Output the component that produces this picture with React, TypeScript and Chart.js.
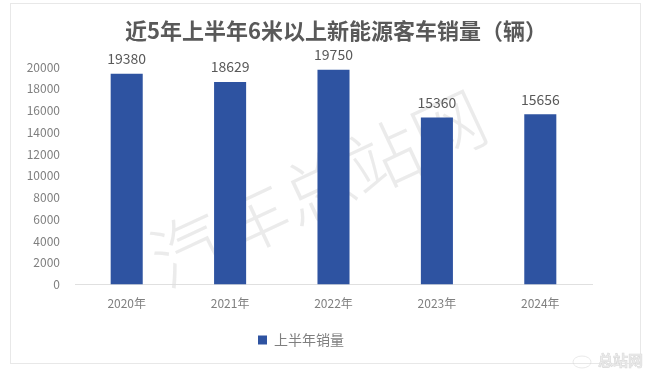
import React, { useEffect, useRef } from "react";
import { Chart, registerables } from "chart.js";

Chart.register(...registerables);

const TITLE = "近5年上半年6米以上新能源客车销量（辆）";
const CATEGORIES = ["2020年", "2021年", "2022年", "2023年", "2024年"];
const SERIES_NAME = "上半年销量";
const VALUES = [19380, 18629, 19750, 15360, 15656];
const Y_MAX = 20000;
const Y_STEP = 2000;
const WATERMARK = "汽车总站网";
const CORNER_MARK = "总站网";

const FONT = "'Noto Sans CJK SC', 'Noto Sans', sans-serif";
const BAR_COLOR = "#2E53A1";

const framePlugin = {
  id: "frame",
  beforeDraw(chart: any) {
    const ctx = chart.ctx;
    ctx.save();
    ctx.fillStyle = "#ffffff";
    ctx.fillRect(0, 0, chart.width, chart.height);
    ctx.strokeStyle = "#e8e8e8";
    ctx.lineWidth = 1;
    ctx.strokeRect(10.5, 3.5, 630, 360);
    ctx.font = `bold 22px ${FONT}`;
    ctx.fillStyle = "#595959";
    ctx.textAlign = "center";
    ctx.textBaseline = "middle";
    ctx.fillText(TITLE, 336, 31);
    ctx.restore();
  },
};

const watermarkPlugin = {
  id: "watermark",
  beforeDatasetsDraw(chart: any) {
    const ctx = chart.ctx;
    ctx.save();
    ctx.translate(318, 188);
    ctx.rotate((-25 * Math.PI) / 180);
    ctx.font = `300 72px ${FONT}`;
    ctx.fillStyle = "rgba(222,222,222,0.6)";
    ctx.textAlign = "center";
    ctx.textBaseline = "middle";
    ctx.fillText(WATERMARK, 0, 0);
    ctx.restore();
  },
  afterDraw(chart: any) {
    const ctx = chart.ctx;
    ctx.save();
    ctx.font = `bold 15px ${FONT}`;
    ctx.fillStyle = "#ececec";
    ctx.strokeStyle = "#dadada";
    ctx.lineWidth = 0.6;
    ctx.textAlign = "left";
    ctx.textBaseline = "middle";
    ctx.fillText(CORNER_MARK, 598, 360);
    ctx.strokeText(CORNER_MARK, 598, 360);
    ctx.beginPath();
    ctx.ellipse(582, 362, 9, 6, 0, 0, Math.PI * 2);
    ctx.stroke();
    ctx.restore();
  },
};

const labelPlugin = {
  id: "valueLabels",
  afterDatasetsDraw(chart: any) {
    const ctx = chart.ctx;
    const meta = chart.getDatasetMeta(0);
    ctx.save();
    ctx.font = `14px ${FONT}`;
    ctx.fillStyle = "#595959";
    ctx.textAlign = "center";
    ctx.textBaseline = "bottom";
    meta.data.forEach((bar: any, i: number) => {
      ctx.fillText(String(VALUES[i]), bar.x, bar.y - 8);
    });
    ctx.restore();
  },
};

export default function App() {
  const ref = useRef<HTMLCanvasElement>(null);
  useEffect(() => {
    const chart = new Chart(ref.current!, {
      type: "bar",
      data: {
        labels: CATEGORIES,
        datasets: [
          {
            label: SERIES_NAME,
            data: VALUES,
            backgroundColor: BAR_COLOR,
            categoryPercentage: 1,
            barPercentage: 0.31,
          },
        ],
      },
      options: {
        animation: false,
        responsive: false,
        layout: { padding: { left: 10, right: 60, top: 67, bottom: 19 } },
        plugins: {
          title: { display: false },
          legend: {
            display: true,
            position: "bottom",
            labels: {
              color: "#7f7f7f",
              font: { family: FONT, size: 14 },
              boxWidth: 9,
              boxHeight: 9,
              padding: 14,
            },
          },
          tooltip: { enabled: false },
        },
        scales: {
          x: {
            grid: { display: false },
            border: { display: true, color: "#e0e0e0" },
            ticks: {
              color: "#7f7f7f",
              font: { family: FONT, size: 12 },
              padding: 4,
            },
            afterFit(scale: any) {
              scale.height += 4;
            },
          },
          y: {
            min: 0,
            max: Y_MAX,
            grid: { display: false, drawTicks: false },
            border: { display: false },
            ticks: {
              stepSize: Y_STEP,
              color: "#7f7f7f",
              font: { family: FONT, size: 12 },
              padding: 15,
              callback: (v: any) => String(v),
            },
            afterFit(scale: any) {
              scale.width = 65;
            },
          },
        },
      },
      plugins: [framePlugin, watermarkPlugin, labelPlugin],
    });
    return () => chart.destroy();
  }, []);
  return (
    <div style={{ position: "fixed", left: 0, top: 0, width: 652, height: 376 }}>
      <canvas ref={ref} width={652} height={376} />
    </div>
  );
}
